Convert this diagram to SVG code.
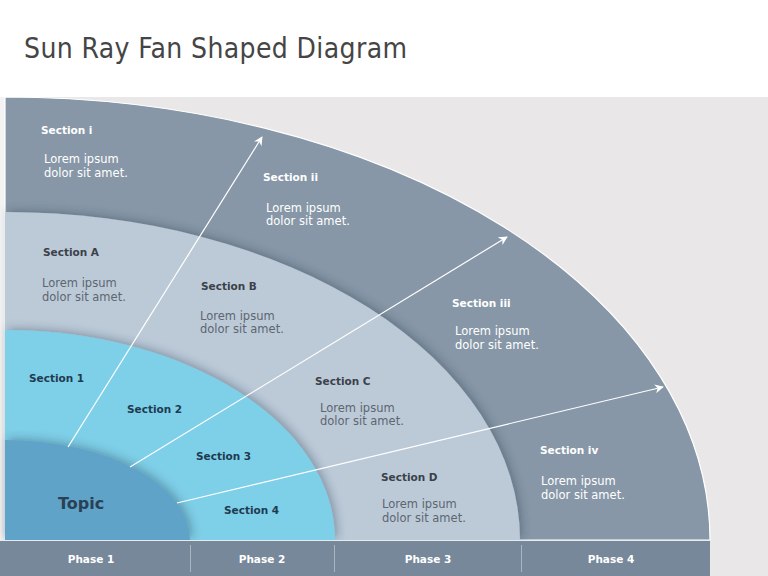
<svg xmlns="http://www.w3.org/2000/svg" width="768" height="576" viewBox="0 0 768 576">
<defs>
<style>
.t{font-family:"DejaVu Sans",Verdana,sans-serif}
.sl{font-family:"DejaVu Sans",Verdana,sans-serif;font-weight:bold;font-size:10.5px}
.w{fill:#ffffff}
.d{fill:#3b4148}
.n{fill:#1f3b50}
.lw{font-family:"DejaVu Sans",Verdana,sans-serif;font-size:11.5px;fill:#ffffff}
.lg{font-family:"DejaVu Sans",Verdana,sans-serif;font-size:11.5px;fill:#5d6670}
.ph{font-family:"DejaVu Sans",Verdana,sans-serif;font-weight:bold;font-size:10.5px;fill:#ffffff;text-anchor:middle}
.ray{stroke:#ffffff;stroke-width:1.2;fill:none;marker-end:url(#ah)}
</style>
<marker id="ah" viewBox="0 0 10 10" refX="9" refY="5" markerWidth="9" markerHeight="9" markerUnits="userSpaceOnUse" orient="auto">
<path d="M0,0 L10,5 L0,10 L3,5 Z" fill="#ffffff"/>
</marker>
<filter id="sh" x="-10%" y="-10%" width="130%" height="130%">
<feDropShadow dx="3" dy="-2" stdDeviation="4" flood-color="#2c3e50" flood-opacity="0.35"/>
</filter>
</defs>
<rect x="0" y="0" width="768" height="576" fill="#ffffff"/>
<rect x="0" y="97" width="768" height="479" fill="#e9e7e8"/>
<rect x="0" y="97" width="5" height="443" fill="#f4f3f3"/>
<text x="24" y="58" font-family="'DejaVu Sans Condensed','DejaVu Sans',sans-serif" font-size="28" fill="#454545" textLength="383">Sun Ray Fan Shaped Diagram</text>

<g id="ring-outer">
<path d="M5,540 L5,97 A705,443 0 0 1 710,540 Z" fill="#8797a7" stroke="#ffffff" stroke-width="1.2"/>
</g>
<g id="ring-middle">
<path d="M5,540 L5,212 A515,328 0 0 1 520,540 Z" fill="#bccad8" filter="url(#sh)"/>
</g>
<g id="ring-inner">
<path d="M5,540 L5,330 A330,210 0 0 1 335,540 Z" fill="#7ecfe8" filter="url(#sh)"/>
</g>
<g id="topic">
<path d="M5,540 L5,440 A185,100 0 0 1 190,540 Z" fill="#60a3c9" filter="url(#sh)"/>
<text class="t" x="58" y="509" font-size="16" font-weight="bold" fill="#2a4055">Topic</text>
</g>

<g id="connectors">
<line class="ray" x1="68" y1="447" x2="262" y2="137"/>
<line class="ray" x1="130" y1="467" x2="507" y2="237"/>
<line class="ray" x1="177" y1="503" x2="663" y2="387"/>
</g>

<g id="section-i"><text class="sl w" x="41" y="134">Section i</text><text class="lw" x="44" y="163">Lorem ipsum</text><text class="lw" x="44" y="177">dolor sit amet.</text></g>
<g id="section-ii"><text class="sl w" x="263" y="181">Section ii</text><text class="lw" x="266" y="212">Lorem ipsum</text><text class="lw" x="266" y="225">dolor sit amet.</text></g>
<g id="section-iii"><text class="sl w" x="452" y="307">Section iii</text><text class="lw" x="455" y="335">Lorem ipsum</text><text class="lw" x="455" y="349">dolor sit amet.</text></g>
<g id="section-iv"><text class="sl w" x="540" y="454">Section iv</text><text class="lw" x="541" y="485">Lorem ipsum</text><text class="lw" x="541" y="499">dolor sit amet.</text></g>

<g id="section-A"><text class="sl d" x="43" y="256">Section A</text><text class="lg" x="42" y="287">Lorem ipsum</text><text class="lg" x="42" y="301">dolor sit amet.</text></g>
<g id="section-B"><text class="sl d" x="201" y="290">Section B</text><text class="lg" x="200" y="320">Lorem ipsum</text><text class="lg" x="200" y="333">dolor sit amet.</text></g>
<g id="section-C"><text class="sl d" x="315" y="385">Section C</text><text class="lg" x="320" y="412">Lorem ipsum</text><text class="lg" x="320" y="425">dolor sit amet.</text></g>
<g id="section-D"><text class="sl d" x="381" y="481">Section D</text><text class="lg" x="382" y="508">Lorem ipsum</text><text class="lg" x="382" y="522">dolor sit amet.</text></g>

<g id="section-1"><text class="sl n" x="29" y="382">Section 1</text></g>
<g id="section-2"><text class="sl n" x="127" y="413">Section 2</text></g>
<g id="section-3"><text class="sl n" x="196" y="460">Section 3</text></g>
<g id="section-4"><text class="sl n" x="224" y="514">Section 4</text></g>

<g id="phase-bar">
<rect x="0" y="540" width="710" height="36" fill="#76889a"/>
<line x1="0" y1="540.5" x2="710" y2="540.5" stroke="#e6ebf0" stroke-width="1"/>
<line x1="190.5" y1="545" x2="190.5" y2="572" stroke="#a9b5c1" stroke-width="1"/>
<line x1="334.5" y1="545" x2="334.5" y2="572" stroke="#a9b5c1" stroke-width="1"/>
<line x1="521.5" y1="545" x2="521.5" y2="572" stroke="#a9b5c1" stroke-width="1"/>
<text class="ph" x="91" y="563">Phase 1</text>
<text class="ph" x="262" y="563">Phase 2</text>
<text class="ph" x="428" y="563">Phase 3</text>
<text class="ph" x="611" y="563">Phase 4</text>
</g>
</svg>
